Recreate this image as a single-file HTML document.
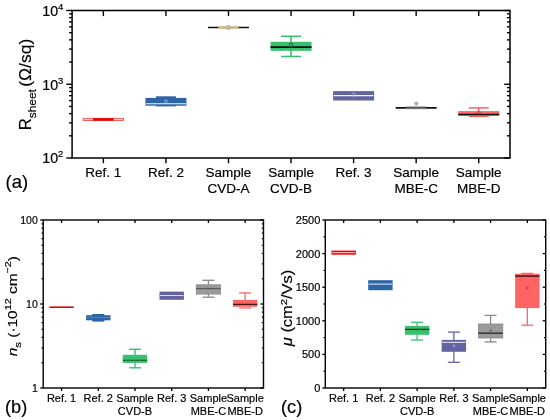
<!DOCTYPE html>
<html><head><meta charset="utf-8"><style>
html,body{margin:0;padding:0;background:#fff;}
svg{display:block;will-change:transform;}
text{font-family:"Liberation Sans",sans-serif;fill:#000;stroke:#000;stroke-width:0.18px;}
</style></head><body>
<svg width="550" height="420" viewBox="0 0 550 420">
<rect width="550" height="420" fill="#fff"/>
<rect x="72.1" y="10.5" width="437.90" height="147.50" fill="none" stroke="#000" stroke-width="1.5"/>
<line x1="66.30" y1="158.00" x2="72.10" y2="158.00" stroke="#000" stroke-width="1.4" />
<line x1="510.00" y1="158.00" x2="504.20" y2="158.00" stroke="#000" stroke-width="1.4" />
<line x1="66.30" y1="84.25" x2="72.10" y2="84.25" stroke="#000" stroke-width="1.4" />
<line x1="510.00" y1="84.25" x2="504.20" y2="84.25" stroke="#000" stroke-width="1.4" />
<line x1="66.30" y1="10.50" x2="72.10" y2="10.50" stroke="#000" stroke-width="1.4" />
<line x1="510.00" y1="10.50" x2="504.20" y2="10.50" stroke="#000" stroke-width="1.4" />
<line x1="69.10" y1="135.80" x2="72.10" y2="135.80" stroke="#000" stroke-width="1.4" />
<line x1="510.00" y1="135.80" x2="507.00" y2="135.80" stroke="#000" stroke-width="1.4" />
<line x1="69.10" y1="122.81" x2="72.10" y2="122.81" stroke="#000" stroke-width="1.4" />
<line x1="510.00" y1="122.81" x2="507.00" y2="122.81" stroke="#000" stroke-width="1.4" />
<line x1="69.10" y1="113.60" x2="72.10" y2="113.60" stroke="#000" stroke-width="1.4" />
<line x1="510.00" y1="113.60" x2="507.00" y2="113.60" stroke="#000" stroke-width="1.4" />
<line x1="69.10" y1="106.45" x2="72.10" y2="106.45" stroke="#000" stroke-width="1.4" />
<line x1="510.00" y1="106.45" x2="507.00" y2="106.45" stroke="#000" stroke-width="1.4" />
<line x1="69.10" y1="100.61" x2="72.10" y2="100.61" stroke="#000" stroke-width="1.4" />
<line x1="510.00" y1="100.61" x2="507.00" y2="100.61" stroke="#000" stroke-width="1.4" />
<line x1="69.10" y1="95.67" x2="72.10" y2="95.67" stroke="#000" stroke-width="1.4" />
<line x1="510.00" y1="95.67" x2="507.00" y2="95.67" stroke="#000" stroke-width="1.4" />
<line x1="69.10" y1="91.40" x2="72.10" y2="91.40" stroke="#000" stroke-width="1.4" />
<line x1="510.00" y1="91.40" x2="507.00" y2="91.40" stroke="#000" stroke-width="1.4" />
<line x1="69.10" y1="87.62" x2="72.10" y2="87.62" stroke="#000" stroke-width="1.4" />
<line x1="510.00" y1="87.62" x2="507.00" y2="87.62" stroke="#000" stroke-width="1.4" />
<line x1="69.10" y1="62.05" x2="72.10" y2="62.05" stroke="#000" stroke-width="1.4" />
<line x1="510.00" y1="62.05" x2="507.00" y2="62.05" stroke="#000" stroke-width="1.4" />
<line x1="69.10" y1="49.06" x2="72.10" y2="49.06" stroke="#000" stroke-width="1.4" />
<line x1="510.00" y1="49.06" x2="507.00" y2="49.06" stroke="#000" stroke-width="1.4" />
<line x1="69.10" y1="39.85" x2="72.10" y2="39.85" stroke="#000" stroke-width="1.4" />
<line x1="510.00" y1="39.85" x2="507.00" y2="39.85" stroke="#000" stroke-width="1.4" />
<line x1="69.10" y1="32.70" x2="72.10" y2="32.70" stroke="#000" stroke-width="1.4" />
<line x1="510.00" y1="32.70" x2="507.00" y2="32.70" stroke="#000" stroke-width="1.4" />
<line x1="69.10" y1="26.86" x2="72.10" y2="26.86" stroke="#000" stroke-width="1.4" />
<line x1="510.00" y1="26.86" x2="507.00" y2="26.86" stroke="#000" stroke-width="1.4" />
<line x1="69.10" y1="21.92" x2="72.10" y2="21.92" stroke="#000" stroke-width="1.4" />
<line x1="510.00" y1="21.92" x2="507.00" y2="21.92" stroke="#000" stroke-width="1.4" />
<line x1="69.10" y1="17.65" x2="72.10" y2="17.65" stroke="#000" stroke-width="1.4" />
<line x1="510.00" y1="17.65" x2="507.00" y2="17.65" stroke="#000" stroke-width="1.4" />
<line x1="69.10" y1="13.87" x2="72.10" y2="13.87" stroke="#000" stroke-width="1.4" />
<line x1="510.00" y1="13.87" x2="507.00" y2="13.87" stroke="#000" stroke-width="1.4" />
<line x1="103.38" y1="158.00" x2="103.38" y2="163.20" stroke="#000" stroke-width="1.4" />
<line x1="103.38" y1="10.50" x2="103.38" y2="16.10" stroke="#000" stroke-width="1.4" />
<line x1="165.94" y1="158.00" x2="165.94" y2="163.20" stroke="#000" stroke-width="1.4" />
<line x1="165.94" y1="10.50" x2="165.94" y2="16.10" stroke="#000" stroke-width="1.4" />
<line x1="228.49" y1="158.00" x2="228.49" y2="163.20" stroke="#000" stroke-width="1.4" />
<line x1="228.49" y1="10.50" x2="228.49" y2="16.10" stroke="#000" stroke-width="1.4" />
<line x1="291.05" y1="158.00" x2="291.05" y2="163.20" stroke="#000" stroke-width="1.4" />
<line x1="291.05" y1="10.50" x2="291.05" y2="16.10" stroke="#000" stroke-width="1.4" />
<line x1="353.61" y1="158.00" x2="353.61" y2="163.20" stroke="#000" stroke-width="1.4" />
<line x1="353.61" y1="10.50" x2="353.61" y2="16.10" stroke="#000" stroke-width="1.4" />
<line x1="416.16" y1="158.00" x2="416.16" y2="163.20" stroke="#000" stroke-width="1.4" />
<line x1="416.16" y1="10.50" x2="416.16" y2="16.10" stroke="#000" stroke-width="1.4" />
<line x1="478.72" y1="158.00" x2="478.72" y2="163.20" stroke="#000" stroke-width="1.4" />
<line x1="478.72" y1="10.50" x2="478.72" y2="16.10" stroke="#000" stroke-width="1.4" />
<text x="42.3" y="15.80" font-size="14.2">10</text>
<text x="58.0" y="9.80" font-size="9.5">4</text>
<text x="42.3" y="89.55" font-size="14.2">10</text>
<text x="58.0" y="83.55" font-size="9.5">3</text>
<text x="42.3" y="163.30" font-size="14.2">10</text>
<text x="58.0" y="157.30" font-size="9.5">2</text>
<text x="103.38" y="177.40" font-size="13.5" text-anchor="middle" >Ref. 1</text>
<text x="165.94" y="177.40" font-size="13.5" text-anchor="middle" >Ref. 2</text>
<text x="228.49" y="177.40" font-size="13.5" text-anchor="middle" >Sample</text>
<text x="228.49" y="192.80" font-size="13.5" text-anchor="middle" >CVD-A</text>
<text x="291.05" y="177.40" font-size="13.5" text-anchor="middle" >Sample</text>
<text x="291.05" y="192.80" font-size="13.5" text-anchor="middle" >CVD-B</text>
<text x="353.61" y="177.40" font-size="13.5" text-anchor="middle" >Ref. 3</text>
<text x="416.16" y="177.40" font-size="13.5" text-anchor="middle" >Sample</text>
<text x="416.16" y="192.80" font-size="13.5" text-anchor="middle" >MBE-C</text>
<text x="478.72" y="177.40" font-size="13.5" text-anchor="middle" >Sample</text>
<text x="478.72" y="192.80" font-size="13.5" text-anchor="middle" >MBE-D</text>
<g transform="translate(30.6,130.2) rotate(-90) scale(1.04,1)"><text x="0" y="0" font-size="16">R<tspan font-size="11.4" dy="5.8">sheet</tspan><tspan dy="-5.8" dx="-2.3" font-size="16.8"> (&#937;/sq)</tspan></text></g>
<text x="5.6" y="187.8" font-size="18.5">(a)</text>
<rect x="83.18" y="118.30" width="40.40" height="2.20" fill="#ffd4d4" stroke="#f03a3a" stroke-width="0.8" />
<rect x="93.08" y="118.20" width="20.60" height="2.40" fill="#eb0000" />
<rect x="155.94" y="96.30" width="20.00" height="10.10" fill="#2d64a5" />
<rect x="145.44" y="97.90" width="41.00" height="7.80" fill="#2d64a5" />
<line x1="146.04" y1="103.80" x2="185.84" y2="103.80" stroke="#f4f6fa" stroke-width="1.1" />
<rect x="164.84" y="100.00" width="2.20" height="2.20" fill="none" stroke="#b8c8e0" stroke-width="0.6" />
<line x1="207.99" y1="27.50" x2="248.99" y2="27.50" stroke="#111" stroke-width="1.7" />
<line x1="218.29" y1="27.50" x2="238.69" y2="27.50" stroke="#fabe00" stroke-width="1.5" />
<circle cx="228.49" cy="27.5" r="2.2" fill="none" stroke="#a8acb8" stroke-width="0.9"/>
<line x1="291.05" y1="36.30" x2="291.05" y2="56.50" stroke="#38c06e" stroke-width="1.6" />
<line x1="281.05" y1="36.30" x2="301.05" y2="36.30" stroke="#38c06e" stroke-width="1.6" />
<line x1="281.05" y1="56.50" x2="301.05" y2="56.50" stroke="#38c06e" stroke-width="1.6" />
<rect x="270.55" y="41.80" width="41.00" height="9.00" fill="#38c06e" />
<line x1="270.55" y1="47.10" x2="311.55" y2="47.10" stroke="#111" stroke-width="1.6" />
<rect x="289.45" y="43.70" width="3.20" height="3.20" fill="none" stroke="#1f5a35" stroke-width="0.8" />
<rect x="333.11" y="91.10" width="41.00" height="9.40" fill="#6363a0" />
<line x1="333.71" y1="95.60" x2="373.51" y2="95.60" stroke="#f4f4fa" stroke-width="1.1" />
<circle cx="353.61" cy="94.5" r="1.6" fill="none" stroke="#c8c8dc" stroke-width="0.7"/>
<line x1="395.66" y1="107.80" x2="436.66" y2="107.80" stroke="#111" stroke-width="1.7" />
<rect x="406.16" y="106.40" width="20.00" height="2.80" fill="#888" />
<line x1="406.16" y1="107.80" x2="426.16" y2="107.80" stroke="#444" stroke-width="1.0" />
<path d="M416.16,101.6 l2,2 l-2,2 l-2,-2 z" fill="#aaa" stroke="#999" stroke-width="0.6"/>
<line x1="478.72" y1="107.90" x2="478.72" y2="111.10" stroke="#ff6464" stroke-width="1.5" />
<line x1="468.72" y1="107.90" x2="488.72" y2="107.90" stroke="#ff6464" stroke-width="1.5" />
<line x1="468.72" y1="116.30" x2="488.72" y2="116.30" stroke="#ff6464" stroke-width="1.5" />
<rect x="458.22" y="111.10" width="41.00" height="4.80" fill="#ff6464" />
<line x1="458.22" y1="114.40" x2="499.22" y2="114.40" stroke="#111" stroke-width="1.5" />
<path d="M478.72,110.9 l1.8,1.8 l-1.8,1.8 l-1.8,-1.8 z" fill="none" stroke="#7a2a2a" stroke-width="0.6"/>
<rect x="43.2" y="220.0" width="220.30" height="168.00" fill="none" stroke="#000" stroke-width="1.4"/>
<line x1="40.20" y1="388.00" x2="43.20" y2="388.00" stroke="#000" stroke-width="1.3" />
<line x1="263.50" y1="388.00" x2="260.50" y2="388.00" stroke="#000" stroke-width="1.3" />
<line x1="40.20" y1="304.00" x2="43.20" y2="304.00" stroke="#000" stroke-width="1.3" />
<line x1="263.50" y1="304.00" x2="260.50" y2="304.00" stroke="#000" stroke-width="1.3" />
<line x1="40.20" y1="220.00" x2="43.20" y2="220.00" stroke="#000" stroke-width="1.3" />
<line x1="263.50" y1="220.00" x2="260.50" y2="220.00" stroke="#000" stroke-width="1.3" />
<line x1="41.50" y1="362.71" x2="43.20" y2="362.71" stroke="#000" stroke-width="1.2" />
<line x1="263.50" y1="362.71" x2="261.80" y2="362.71" stroke="#000" stroke-width="1.2" />
<line x1="41.50" y1="347.92" x2="43.20" y2="347.92" stroke="#000" stroke-width="1.2" />
<line x1="263.50" y1="347.92" x2="261.80" y2="347.92" stroke="#000" stroke-width="1.2" />
<line x1="41.50" y1="337.43" x2="43.20" y2="337.43" stroke="#000" stroke-width="1.2" />
<line x1="263.50" y1="337.43" x2="261.80" y2="337.43" stroke="#000" stroke-width="1.2" />
<line x1="41.50" y1="329.29" x2="43.20" y2="329.29" stroke="#000" stroke-width="1.2" />
<line x1="263.50" y1="329.29" x2="261.80" y2="329.29" stroke="#000" stroke-width="1.2" />
<line x1="41.50" y1="322.64" x2="43.20" y2="322.64" stroke="#000" stroke-width="1.2" />
<line x1="263.50" y1="322.64" x2="261.80" y2="322.64" stroke="#000" stroke-width="1.2" />
<line x1="41.50" y1="317.01" x2="43.20" y2="317.01" stroke="#000" stroke-width="1.2" />
<line x1="263.50" y1="317.01" x2="261.80" y2="317.01" stroke="#000" stroke-width="1.2" />
<line x1="41.50" y1="312.14" x2="43.20" y2="312.14" stroke="#000" stroke-width="1.2" />
<line x1="263.50" y1="312.14" x2="261.80" y2="312.14" stroke="#000" stroke-width="1.2" />
<line x1="41.50" y1="307.84" x2="43.20" y2="307.84" stroke="#000" stroke-width="1.2" />
<line x1="263.50" y1="307.84" x2="261.80" y2="307.84" stroke="#000" stroke-width="1.2" />
<line x1="41.50" y1="278.71" x2="43.20" y2="278.71" stroke="#000" stroke-width="1.2" />
<line x1="263.50" y1="278.71" x2="261.80" y2="278.71" stroke="#000" stroke-width="1.2" />
<line x1="41.50" y1="263.92" x2="43.20" y2="263.92" stroke="#000" stroke-width="1.2" />
<line x1="263.50" y1="263.92" x2="261.80" y2="263.92" stroke="#000" stroke-width="1.2" />
<line x1="41.50" y1="253.43" x2="43.20" y2="253.43" stroke="#000" stroke-width="1.2" />
<line x1="263.50" y1="253.43" x2="261.80" y2="253.43" stroke="#000" stroke-width="1.2" />
<line x1="41.50" y1="245.29" x2="43.20" y2="245.29" stroke="#000" stroke-width="1.2" />
<line x1="263.50" y1="245.29" x2="261.80" y2="245.29" stroke="#000" stroke-width="1.2" />
<line x1="41.50" y1="238.64" x2="43.20" y2="238.64" stroke="#000" stroke-width="1.2" />
<line x1="263.50" y1="238.64" x2="261.80" y2="238.64" stroke="#000" stroke-width="1.2" />
<line x1="41.50" y1="233.01" x2="43.20" y2="233.01" stroke="#000" stroke-width="1.2" />
<line x1="263.50" y1="233.01" x2="261.80" y2="233.01" stroke="#000" stroke-width="1.2" />
<line x1="41.50" y1="228.14" x2="43.20" y2="228.14" stroke="#000" stroke-width="1.2" />
<line x1="263.50" y1="228.14" x2="261.80" y2="228.14" stroke="#000" stroke-width="1.2" />
<line x1="41.50" y1="223.84" x2="43.20" y2="223.84" stroke="#000" stroke-width="1.2" />
<line x1="263.50" y1="223.84" x2="261.80" y2="223.84" stroke="#000" stroke-width="1.2" />
<line x1="61.56" y1="388.00" x2="61.56" y2="391.00" stroke="#000" stroke-width="1.3" />
<line x1="61.56" y1="220.00" x2="61.56" y2="223.00" stroke="#000" stroke-width="1.3" />
<line x1="98.28" y1="388.00" x2="98.28" y2="391.00" stroke="#000" stroke-width="1.3" />
<line x1="98.28" y1="220.00" x2="98.28" y2="223.00" stroke="#000" stroke-width="1.3" />
<line x1="134.99" y1="388.00" x2="134.99" y2="391.00" stroke="#000" stroke-width="1.3" />
<line x1="134.99" y1="220.00" x2="134.99" y2="223.00" stroke="#000" stroke-width="1.3" />
<line x1="171.71" y1="388.00" x2="171.71" y2="391.00" stroke="#000" stroke-width="1.3" />
<line x1="171.71" y1="220.00" x2="171.71" y2="223.00" stroke="#000" stroke-width="1.3" />
<line x1="208.43" y1="388.00" x2="208.43" y2="391.00" stroke="#000" stroke-width="1.3" />
<line x1="208.43" y1="220.00" x2="208.43" y2="223.00" stroke="#000" stroke-width="1.3" />
<line x1="245.14" y1="388.00" x2="245.14" y2="391.00" stroke="#000" stroke-width="1.3" />
<line x1="245.14" y1="220.00" x2="245.14" y2="223.00" stroke="#000" stroke-width="1.3" />
<text x="37.80" y="223.60" font-size="10.5" text-anchor="end" >100</text>
<text x="37.80" y="307.60" font-size="10.5" text-anchor="end" >10</text>
<text x="37.80" y="391.60" font-size="10.5" text-anchor="end" >1</text>
<text x="61.56" y="401.70" font-size="11" text-anchor="middle" >Ref. 1</text>
<text x="98.28" y="401.70" font-size="11" text-anchor="middle" >Ref. 2</text>
<text x="134.99" y="401.70" font-size="11" text-anchor="middle" >Sample</text>
<text x="134.99" y="414.50" font-size="11" text-anchor="middle" >CVD-B</text>
<text x="171.71" y="401.70" font-size="11" text-anchor="middle" >Ref. 3</text>
<text x="208.43" y="401.70" font-size="11" text-anchor="middle" >Sample</text>
<text x="208.43" y="414.50" font-size="11" text-anchor="middle" >MBE-C</text>
<text x="245.14" y="401.70" font-size="11" text-anchor="middle" >Sample</text>
<text x="245.14" y="414.50" font-size="11" text-anchor="middle" >MBE-D</text>
<g transform="translate(16.9,356.3) rotate(-90) scale(1.16,1)"><text x="0" y="0" font-size="13.3"><tspan font-style="italic">n</tspan><tspan font-size="9.8" dy="3.6">s</tspan><tspan dy="-3.6"> (&#183;10</tspan><tspan font-size="9.3" dy="-5.5">12</tspan><tspan dy="5.5"> cm</tspan><tspan font-size="9.3" dy="-5.5">&#8722;2</tspan><tspan dy="5.5">)</tspan></text></g>
<text x="5.0" y="412.7" font-size="18.2">(b)</text>
<line x1="49.36" y1="307.20" x2="73.76" y2="307.20" stroke="#eb0000" stroke-width="1.6" />
<rect x="92.28" y="314.00" width="12.00" height="7.60" fill="#2d64a5" />
<rect x="86.08" y="315.20" width="24.40" height="5.10" fill="#2d64a5" />
<line x1="86.58" y1="317.30" x2="109.98" y2="317.30" stroke="#6f93c0" stroke-width="0.7" />
<line x1="134.99" y1="349.30" x2="134.99" y2="367.80" stroke="#38c06e" stroke-width="1.4" />
<line x1="128.99" y1="349.30" x2="140.99" y2="349.30" stroke="#38c06e" stroke-width="1.4" />
<line x1="128.99" y1="367.80" x2="140.99" y2="367.80" stroke="#38c06e" stroke-width="1.4" />
<rect x="122.79" y="354.80" width="24.40" height="8.10" fill="#38c06e" />
<line x1="122.79" y1="360.30" x2="147.19" y2="360.30" stroke="#1e6b3f" stroke-width="1.3" />
<rect x="159.51" y="291.60" width="24.40" height="8.20" fill="#6363a0" />
<line x1="160.01" y1="295.50" x2="183.41" y2="295.50" stroke="#e8e8f4" stroke-width="0.9" />
<line x1="208.43" y1="280.30" x2="208.43" y2="297.20" stroke="#8a8a8a" stroke-width="1.3" />
<line x1="202.43" y1="280.30" x2="214.43" y2="280.30" stroke="#8a8a8a" stroke-width="1.3" />
<line x1="202.43" y1="297.20" x2="214.43" y2="297.20" stroke="#8a8a8a" stroke-width="1.3" />
<rect x="196.23" y="284.80" width="24.40" height="9.30" fill="#9a9a9a" stroke="#8a8a8a" stroke-width="0.8" />
<line x1="196.23" y1="288.60" x2="220.62" y2="288.60" stroke="#5a5a5a" stroke-width="1.3" />
<line x1="245.14" y1="292.90" x2="245.14" y2="299.90" stroke="#ff6464" stroke-width="1.3" />
<line x1="239.14" y1="292.90" x2="251.14" y2="292.90" stroke="#ff6464" stroke-width="1.3" />
<line x1="239.14" y1="307.90" x2="251.14" y2="307.90" stroke="#ff6464" stroke-width="1.3" />
<rect x="232.94" y="299.90" width="24.40" height="6.90" fill="#ff6464" />
<line x1="232.94" y1="304.40" x2="257.34" y2="304.40" stroke="#4a1515" stroke-width="1.3" />
<rect x="325.3" y="220.0" width="220.40" height="168.00" fill="none" stroke="#000" stroke-width="1.4"/>
<line x1="322.30" y1="388.00" x2="325.30" y2="388.00" stroke="#000" stroke-width="1.3" />
<line x1="545.70" y1="388.00" x2="542.70" y2="388.00" stroke="#000" stroke-width="1.3" />
<text x="320.30" y="391.90" font-size="11" text-anchor="end" >0</text>
<line x1="322.30" y1="354.40" x2="325.30" y2="354.40" stroke="#000" stroke-width="1.3" />
<line x1="545.70" y1="354.40" x2="542.70" y2="354.40" stroke="#000" stroke-width="1.3" />
<text x="320.30" y="358.30" font-size="11" text-anchor="end" >500</text>
<line x1="322.30" y1="320.80" x2="325.30" y2="320.80" stroke="#000" stroke-width="1.3" />
<line x1="545.70" y1="320.80" x2="542.70" y2="320.80" stroke="#000" stroke-width="1.3" />
<text x="320.30" y="324.70" font-size="11" text-anchor="end" >1000</text>
<line x1="322.30" y1="287.20" x2="325.30" y2="287.20" stroke="#000" stroke-width="1.3" />
<line x1="545.70" y1="287.20" x2="542.70" y2="287.20" stroke="#000" stroke-width="1.3" />
<text x="320.30" y="291.10" font-size="11" text-anchor="end" >1500</text>
<line x1="322.30" y1="253.60" x2="325.30" y2="253.60" stroke="#000" stroke-width="1.3" />
<line x1="545.70" y1="253.60" x2="542.70" y2="253.60" stroke="#000" stroke-width="1.3" />
<text x="320.30" y="257.50" font-size="11" text-anchor="end" >2000</text>
<line x1="322.30" y1="220.00" x2="325.30" y2="220.00" stroke="#000" stroke-width="1.3" />
<line x1="545.70" y1="220.00" x2="542.70" y2="220.00" stroke="#000" stroke-width="1.3" />
<text x="320.30" y="223.90" font-size="11" text-anchor="end" >2500</text>
<line x1="323.50" y1="371.20" x2="325.30" y2="371.20" stroke="#000" stroke-width="1.2" />
<line x1="545.70" y1="371.20" x2="543.90" y2="371.20" stroke="#000" stroke-width="1.2" />
<line x1="323.50" y1="337.60" x2="325.30" y2="337.60" stroke="#000" stroke-width="1.2" />
<line x1="545.70" y1="337.60" x2="543.90" y2="337.60" stroke="#000" stroke-width="1.2" />
<line x1="323.50" y1="304.00" x2="325.30" y2="304.00" stroke="#000" stroke-width="1.2" />
<line x1="545.70" y1="304.00" x2="543.90" y2="304.00" stroke="#000" stroke-width="1.2" />
<line x1="323.50" y1="270.40" x2="325.30" y2="270.40" stroke="#000" stroke-width="1.2" />
<line x1="545.70" y1="270.40" x2="543.90" y2="270.40" stroke="#000" stroke-width="1.2" />
<line x1="323.50" y1="236.80" x2="325.30" y2="236.80" stroke="#000" stroke-width="1.2" />
<line x1="545.70" y1="236.80" x2="543.90" y2="236.80" stroke="#000" stroke-width="1.2" />
<line x1="343.67" y1="388.00" x2="343.67" y2="391.00" stroke="#000" stroke-width="1.3" />
<line x1="343.67" y1="220.00" x2="343.67" y2="223.00" stroke="#000" stroke-width="1.3" />
<line x1="380.40" y1="388.00" x2="380.40" y2="391.00" stroke="#000" stroke-width="1.3" />
<line x1="380.40" y1="220.00" x2="380.40" y2="223.00" stroke="#000" stroke-width="1.3" />
<line x1="417.13" y1="388.00" x2="417.13" y2="391.00" stroke="#000" stroke-width="1.3" />
<line x1="417.13" y1="220.00" x2="417.13" y2="223.00" stroke="#000" stroke-width="1.3" />
<line x1="453.87" y1="388.00" x2="453.87" y2="391.00" stroke="#000" stroke-width="1.3" />
<line x1="453.87" y1="220.00" x2="453.87" y2="223.00" stroke="#000" stroke-width="1.3" />
<line x1="490.60" y1="388.00" x2="490.60" y2="391.00" stroke="#000" stroke-width="1.3" />
<line x1="490.60" y1="220.00" x2="490.60" y2="223.00" stroke="#000" stroke-width="1.3" />
<line x1="527.33" y1="388.00" x2="527.33" y2="391.00" stroke="#000" stroke-width="1.3" />
<line x1="527.33" y1="220.00" x2="527.33" y2="223.00" stroke="#000" stroke-width="1.3" />
<text x="343.67" y="401.70" font-size="11" text-anchor="middle" >Ref. 1</text>
<text x="380.40" y="401.70" font-size="11" text-anchor="middle" >Ref. 2</text>
<text x="417.13" y="401.70" font-size="11" text-anchor="middle" >Sample</text>
<text x="417.13" y="414.50" font-size="11" text-anchor="middle" >CVD-B</text>
<text x="453.87" y="401.70" font-size="11" text-anchor="middle" >Ref. 3</text>
<text x="490.60" y="401.70" font-size="11" text-anchor="middle" >Sample</text>
<text x="490.60" y="414.50" font-size="11" text-anchor="middle" >MBE-C</text>
<text x="527.33" y="401.70" font-size="11" text-anchor="middle" >Sample</text>
<text x="527.33" y="414.50" font-size="11" text-anchor="middle" >MBE-D</text>
<g transform="translate(292.4,346.2) rotate(-90) scale(1.175,1)"><text x="0" y="0" font-size="14"><tspan font-style="italic">&#956;</tspan> (cm<tspan font-size="9.5" dy="-5.5">2</tspan><tspan dy="5.5">/Vs)</tspan></text></g>
<text x="281.0" y="412.7" font-size="18.2">(c)</text>
<rect x="331.47" y="250.60" width="24.40" height="4.10" fill="#eb0000" />
<line x1="331.97" y1="252.70" x2="355.37" y2="252.70" stroke="#ffeaea" stroke-width="0.9" />
<rect x="368.20" y="280.20" width="24.40" height="10.00" fill="#2d64a5" />
<line x1="368.70" y1="284.10" x2="392.10" y2="284.10" stroke="#eef2f8" stroke-width="1.0" />
<line x1="417.13" y1="322.30" x2="417.13" y2="340.00" stroke="#38c06e" stroke-width="1.3" />
<line x1="411.13" y1="322.30" x2="423.13" y2="322.30" stroke="#38c06e" stroke-width="1.3" />
<line x1="411.13" y1="340.00" x2="423.13" y2="340.00" stroke="#38c06e" stroke-width="1.3" />
<rect x="404.93" y="325.90" width="24.40" height="8.90" fill="#38c06e" />
<line x1="404.93" y1="329.40" x2="429.33" y2="329.40" stroke="#123d24" stroke-width="1.3" />
<line x1="453.87" y1="332.10" x2="453.87" y2="362.30" stroke="#6363a0" stroke-width="1.3" />
<line x1="447.87" y1="332.10" x2="459.87" y2="332.10" stroke="#6363a0" stroke-width="1.3" />
<line x1="447.87" y1="362.30" x2="459.87" y2="362.30" stroke="#6363a0" stroke-width="1.3" />
<rect x="441.67" y="339.90" width="24.40" height="11.90" fill="#6363a0" />
<line x1="442.17" y1="342.30" x2="465.57" y2="342.30" stroke="#f4f4fa" stroke-width="1.0" />
<circle cx="453.87" cy="345.8" r="1.6" fill="#9090c0"/>
<line x1="490.60" y1="315.40" x2="490.60" y2="341.90" stroke="#8a8a8a" stroke-width="1.3" />
<line x1="484.60" y1="315.40" x2="496.60" y2="315.40" stroke="#8a8a8a" stroke-width="1.3" />
<line x1="484.60" y1="341.90" x2="496.60" y2="341.90" stroke="#8a8a8a" stroke-width="1.3" />
<rect x="478.40" y="324.00" width="24.40" height="14.00" fill="#9a9a9a" stroke="#8a8a8a" stroke-width="0.8" />
<line x1="478.40" y1="333.20" x2="502.80" y2="333.20" stroke="#333" stroke-width="1.5" />
<circle cx="490.60" cy="330.8" r="1.5" fill="#777"/>
<line x1="527.33" y1="308.10" x2="527.33" y2="325.20" stroke="#ff6464" stroke-width="1.3" />
<line x1="521.33" y1="273.40" x2="533.33" y2="273.40" stroke="#ff6464" stroke-width="1.3" />
<line x1="521.33" y1="325.20" x2="533.33" y2="325.20" stroke="#ff6464" stroke-width="1.3" />
<rect x="515.13" y="273.80" width="24.40" height="34.30" fill="#ff6464" />
<line x1="515.13" y1="276.10" x2="539.53" y2="276.10" stroke="#4a1212" stroke-width="1.5" />
<circle cx="527.33" cy="288.1" r="1.2" fill="#c04040"/>
</svg>
</body></html>
